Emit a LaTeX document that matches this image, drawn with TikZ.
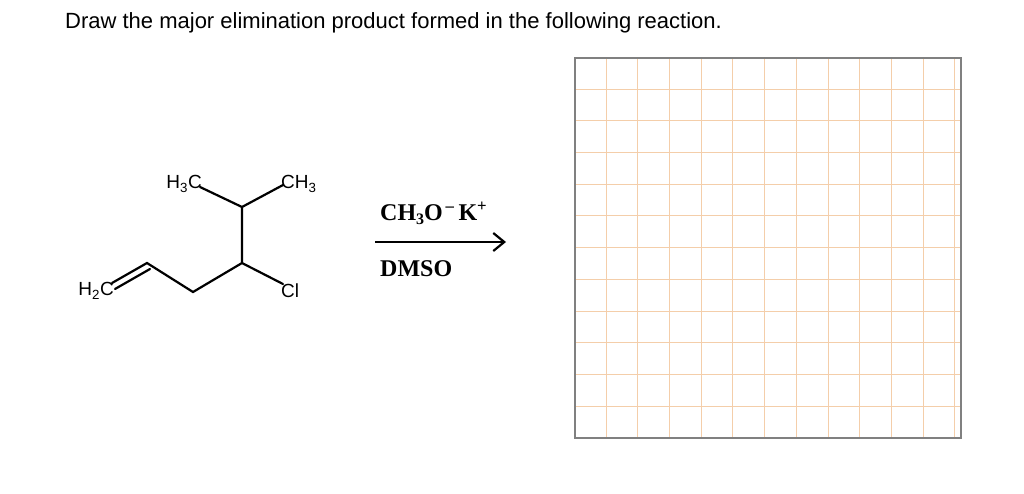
\documentclass[tikz,border=0pt]{standalone}
\usepackage{fontspec}
\setmainfont{Liberation Sans}
\newfontfamily\tnr{Liberation Serif}
\usetikzlibrary{calc,arrows.meta}
\definecolor{gridc}{RGB}{244,206,170}
\begin{document}
\begin{tikzpicture}[x=1pt,y=-1pt,
  bond/.style={line width=2.2pt,line cap=round},
  atom/.style={inner sep=0pt,font=\fontsize{19}{19}\selectfont},
  reag/.style={inner sep=0pt,font=\tnr\bfseries\fontsize{24}{24}\selectfont}]
\useasboundingbox (0,0) rectangle (1024,493);
\node[anchor=west,inner sep=0pt,font=\fontsize{22}{22}\selectfont] (title) at (65,23) {Draw the major elimination product formed in the following reaction.};
% molecule
\node[atom,anchor=east] (me1) at (202,184) {H\textsubscript{3}C};
\node[atom,anchor=west] (me2) at (281,184) {CH\textsubscript{3}};
\node[atom,anchor=east] (ch2) at (114,291) {H\textsubscript{2}C};
\node[atom,anchor=west] (cl) at (281,291) {Cl};
\coordinate (a) at (242,207);
\coordinate (b) at (242,263);
\coordinate (c) at (193,292);
\coordinate (d) at (147,263);
\coordinate (e1) at (200,187);
\coordinate (e2) at (283,185);
\coordinate (e3) at (283,284);
\coordinate (e4) at (112,283);
\draw[bond] (e1) -- (a) -- (e2);
\draw[bond] (a) -- (b) -- (e3);
\draw[bond] (b) -- (c) -- (d) -- (e4);
\draw[bond] ($(d)+(3,6)$) -- ($(e4)+(3,6)$);
% reagents
\node[reag,anchor=west] (r1) at (380,213) {CH\raisebox{-0.35ex}{\fontsize{16}{16}\selectfont 3}O\textsuperscript{\,–}\,K\textsuperscript{+}};
\node[reag,anchor=west] (r2) at (380,269) {DMSO};
\coordinate (arS) at (375,242);
\coordinate (arE) at (506,242);
\draw[line width=2.2pt,-{Straight Barb[length=11pt,width=18pt]}] (arS) -- (arE);
% grid
\foreach \i in {1,...,12} {
  \pgfmathsetmacro{\gp}{round(31.7*\i)+0.5}
  \draw[color=gridc,line width=1pt] (574+\gp,57) -- (574+\gp,437);
  \draw[color=gridc,line width=1pt] (574,57+\gp) -- (960,57+\gp);
}
\node[draw=gray,line width=1.5pt,inner sep=0pt,minimum width=386pt,minimum height=380pt,anchor=north west] (box) at (574,57) {};
\end{tikzpicture}
\end{document}
